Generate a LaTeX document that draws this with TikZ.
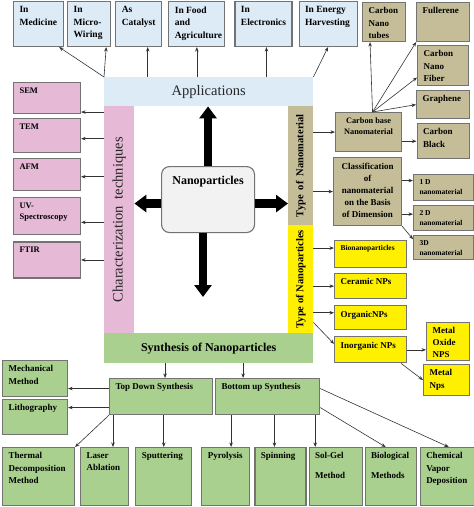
\documentclass[tikz,border=0pt]{standalone}
\usepackage{fontspec}
\setmainfont{Liberation Serif}
\usepackage{xcolor}
\usepackage{tikz}
\usetikzlibrary{positioning,arrows.meta}

\definecolor{appblue}{RGB}{221,235,247}
\definecolor{techpink}{RGB}{230,185,215}
\definecolor{matertan}{RGB}{196,189,151}
\definecolor{partyellow}{RGB}{255,240,0}
\definecolor{synthgreen}{RGB}{169,208,142}
\definecolor{corefill}{RGB}{242,242,242}

% box text: [top gap]{width}{height}{text}
\newcommand{\cellL}[4][5]{\parbox[t][#3pt][t]{#2pt}{\raggedright\leftskip=6pt\relax\vspace*{#1pt}#4}}
\newcommand{\cellC}[4][5]{\parbox[t][#3pt][t]{#2pt}{\centering\vspace*{#1pt}#4}}

\tikzset{
  cell/.style={draw=black!55, line width=1.1pt, inner sep=0pt, anchor=north west,
    font=\bfseries\fontsize{9}{12.5}\selectfont},
  appcell/.style={cell, fill=appblue, font=\bfseries\fontsize{9.5}{12.5}\selectfont},
  techcell/.style={cell, fill=techpink, font=\bfseries\fontsize{8.5}{11}\selectfont},
  matercell/.style={cell, fill=matertan},
  partcell/.style={cell, fill=partyellow},
  synthcell/.style={cell, fill=synthgreen},
  band/.style={inner sep=0pt, anchor=north west},
  link/.style={-{Stealth[length=4.5pt,width=3.5pt]}, draw=black!80, line width=0.6pt},
  bigarrow/.style={-{Triangle[length=12pt,width=17pt]}, line width=8.5pt},
}

\begin{document}
\begin{tikzpicture}[x=1pt, y=-1pt]
\useasboundingbox (0,0) rectangle (474,507);

% applications
\node[appcell] (med) at (13,1) {\cellL{50}{45}{In\\Medicine}};
\node[appcell, right=3pt of med] (wiring) {\cellL{43}{45}{In\\Micro-\\Wiring}};
\node[appcell, right=4pt of wiring] (catal) {\cellL{46}{45}{As\\Catalyst}};
\node[appcell, right=6pt of catal] (food) {\cellL{56}{45}{In Food\\and\\Agriculture}};
\node[appcell, right=9pt of food] (elec) {\cellL{57}{45}{In\\Electronics}};
\node[appcell, right=6pt of elec] (energy) {\cellL{58}{45}{In Energy\\Harvesting}};

% bands round the centre
\node[band, fill=appblue, minimum width=209pt, minimum height=29pt,
  font=\fontsize{14.5}{16}\selectfont, text=black!85] (apps) at (104,77) {Applications};
\node[band, fill=techpink, minimum width=30pt, minimum height=227pt,
  label={[rotate=90, font=\fontsize{14.5}{16}\selectfont, text=black!85]center:Characterization\ \ techniques}] (techs) at (104,106) {};
\node[band, fill=matertan, minimum width=25pt, minimum height=119pt,
  label={[rotate=90, font=\bfseries\fontsize{10.5}{12}\selectfont]center:Type\ \ of\ \ Nanomaterial}] (tmat) at (288,106) {};
\node[band, fill=partyellow, minimum width=25pt, minimum height=108pt,
  label={[rotate=90, font=\bfseries\fontsize{10.5}{12}\selectfont]center:Type of Nanoparticles}] (tpart) at (288,225) {};
\node[band, fill=synthgreen, minimum width=209pt, minimum height=30pt,
  font=\bfseries\fontsize{12}{14}\selectfont] (synth) at (104,333) {Synthesis of Nanoparticles};

\node[cell, fill=corefill, rounded corners=8pt, font=\bfseries\fontsize{12}{14}\selectfont]
  (core) at (161,166) {\cellC[10]{93}{66}{Nanoparticles}};

% characterization
\node[techcell] (sem) at (13,82) {\cellL{67}{31}{SEM}};
\node[techcell, below=4pt of sem] (tem) {\cellL{67}{34}{TEM}};
\node[techcell, below=5pt of tem] (afm) {\cellL{67}{32}{AFM}};
\node[techcell, below=6pt of afm] (uvs) {\cellL{67}{37}{UV-\\Spectroscopy}};
\node[techcell, below=6pt of uvs] (ftir) {\cellL{67}{36}{FTIR}};

% type of nanomaterial
\node[matercell] (cnt) at (362,2) {\cellL{43}{39}{Carbon\\Nano\\tubes}};
\node[matercell, right=10pt of cnt] (fuller) {\cellL{53}{39}{Fullerene}};
\node[matercell] (cnf) at (417,45) {\cellL{51}{40}{Carbon\\Nano\\Fiber}};
\node[matercell, below=4pt of cnf] (graph) {\cellL{53}{28}{Graphene}};
\node[matercell, below=4pt of graph] (cblack) {\cellL{52}{35}{Carbon\\Black}};
\node[matercell, font=\bfseries\fontsize{8.3}{11}\selectfont] (cbase) at (335,112)
  {\cellC{66}{39}{Carbon base\\Nanomaterial}};
\node[matercell, font=\bfseries\fontsize{9}{11.8}\selectfont] (classif) at (333,157)
  {\cellC[6]{68}{68}{Classification\\of\\nanomaterial\\on the Basis\\of Dimension}};
\node[matercell, font=\bfseries\fontsize{7.5}{10}\selectfont] (dim1) at (413,174) {\cellL{60}{26}{1 D\\nanomaterial}};
\node[matercell, font=\bfseries\fontsize{7.5}{10}\selectfont, below=4pt of dim1] (dim2) {\cellL{60}{25}{2 D\\nanomaterial}};
\node[matercell, font=\bfseries\fontsize{7.5}{10}\selectfont, below=4pt of dim2] (dim3) {\cellL{60}{24}{3D\\nanomaterial}};

% type of nanoparticles
\node[partcell, font=\bfseries\fontsize{7.5}{10}\selectfont] (bionp) at (334,240) {\cellL{72}{27}{Bionanoparticles}};
\node[partcell, below=5pt of bionp] (ceram) {\cellL{72}{25}{Ceramic NPs}};
\node[partcell, below=6pt of ceram] (organ) {\cellL{72}{24}{OrganicNPs}};
\node[partcell, below=6pt of organ] (inorg) {\cellL{72}{26}{Inorganic NPs}};
\node[partcell, font=\bfseries\fontsize{9}{12}\selectfont] (moxide) at (426,322) {\cellL{43}{38}{Metal\\Oxide\\NPS}};
\node[partcell] (metal) at (423,364) {\cellL{46}{31}{Metal\\Nps}};

% synthesis
\node[synthcell] (topdown) at (109,378) {\cellL{103}{36}{Top Down Synthesis}};
\node[synthcell, right=2pt of topdown] (botup) {\cellL{104}{36}{Bottom up Synthesis}};
\node[synthcell] (mech) at (2,360) {\cellL{65}{36}{Mechanical\\Method}};
\node[synthcell, below=2pt of mech] (litho) {\cellL{65}{35}{Lithography}};
\node[synthcell] (thermal) at (2,447) {\cellL{72}{58}{Thermal\\Decomposition\\Method}};
\node[synthcell, right=5pt of thermal] (laser) {\cellL{48}{58}{Laser\\Ablation}};
\node[synthcell, right=6pt of laser] (sputter) {\cellL{56}{58}{Sputtering}};
\node[synthcell, right=9pt of sputter] (pyro) {\cellL{48}{58}{Pyrolysis}};
\node[synthcell, right=4pt of pyro] (spin) {\cellL{51}{58}{Spinning}};
\node[synthcell, right=2pt of spin] (solgel) {\cellL{53}{58}{Sol-Gel\\[7.5pt]Method}};
\node[synthcell, right=2pt of solgel] (biometh) {\cellL{51}{58}{Biological\\[7.5pt]Methods}};
\node[synthcell, right=3pt of biometh] (cvd) {\cellL{57}{58}{Chemical\\Vapor\\Deposition}};

% big arrows
\coordinate (downtip) at (203,297);
\draw[bigarrow] (core.north) -- (core.north |- apps.south);
\draw[bigarrow] ([yshift=-4pt]core.west) -- ([yshift=-4pt]core.west -| techs.east);
\draw[bigarrow] ([yshift=-4pt]core.east) -- ([yshift=-4pt]core.east -| tmat.west);
\draw[bigarrow] (core.south -| downtip) -- (downtip);

% links
\draw[link] (apps.north west) -- ([xshift=-5pt]med.south east);
\draw[link] (apps.north west) -- ([xshift=-5pt]wiring.south east);
\draw[link] ([xshift=9pt]catal.south |- apps.north) -- ([xshift=9pt]catal.south);
\draw[link] (food.south |- apps.north) -- (food.south);
\draw[link] ([xshift=3pt]elec.south |- apps.north) -- ([xshift=3pt]elec.south);
\draw[link] (apps.north east) -- (energy.south);

\draw[link] ([yshift=-14pt]sem.east -| techs.west) -- ([yshift=-14pt]sem.east);
\draw[link] ([yshift=-3pt]tem.east -| techs.west) -- ([yshift=-3pt]tem.east);
\draw[link] ([yshift=-2pt]afm.east -| techs.west) -- ([yshift=-2pt]afm.east);
\draw[link] ([yshift=-6pt]uvs.east -| techs.west) -- ([yshift=-6pt]uvs.east);
\draw[link] (ftir.east -| techs.west) -- (ftir.east);

\draw[link] (cbase.west -| tmat.east) -- (cbase.west);
\draw[link] (classif.west -| tmat.east) -- (classif.west);
\draw[link] ([xshift=4pt]cbase.north) -- ([xshift=8pt]cnt.south west);
\draw[link] ([xshift=4pt]cbase.north) -- (fuller.south west);
\draw[link] ([xshift=4pt]cbase.north) -- ([yshift=-12pt]cnf.west);
\draw[link] ([xshift=4pt]cbase.north) -- (graph.west);
\draw[link] (cbase.east |- cblack.west) -- (cblack.west);
\draw[link] ([yshift=7pt]dim1.west -| classif.east) -- ([yshift=7pt]dim1.west);
\draw[link] ([yshift=4pt]dim2.west -| classif.east) -- ([yshift=4pt]dim2.west);
\draw[link] (classif.south east) -- ([yshift=-4pt]dim3.north west);

\draw[link] ([yshift=6pt]bionp.west -| tpart.east) -- ([yshift=6pt]bionp.west);
\draw[link] (ceram.west -| tpart.east) -- (ceram.west);
\draw[link] ([yshift=5pt]organ.west -| tpart.east) -- ([yshift=5pt]organ.west);
\draw[link] ([yshift=11pt]tpart.south east) -- ([yshift=6pt]inorg.west);
\draw[link] (inorg.east) -- (inorg.east -| moxide.west);
\draw[link] ([xshift=-6pt]inorg.south east) -- (metal.west);

\draw[link] ([xshift=4pt]topdown.north |- synth.south) -- ([xshift=4pt]topdown.north);
\draw[link] ([xshift=28pt]botup.north west |- synth.south) -- ([xshift=28pt]botup.north west);
\draw[link] ([yshift=8pt]topdown.west) -- ([yshift=8pt]topdown.west -| mech.east);
\draw[link] ([yshift=-11pt]topdown.west) -- ([yshift=-11pt]topdown.west -| litho.east);
\draw[link] (topdown.south west) -- (thermal.north east);
\draw[link] ([xshift=4pt]topdown.south west) -- ([xshift=4pt]topdown.south west |- laser.north);
\draw[link] (sputter.north |- topdown.south) -- (sputter.north);
\draw[link] ([xshift=16pt]botup.south west) -- ([xshift=16pt]botup.south west |- pyro.north);
\draw[link] ([xshift=-6pt]spin.north |- botup.south) -- ([xshift=-6pt]spin.north);
\draw[link] ([xshift=-5pt]botup.south east) -- ([xshift=-5pt]botup.south east |- solgel.north);
\draw[link] ([yshift=-11pt]botup.east) -- ([xshift=-5pt]biometh.north);
\draw[link] ([yshift=8pt]botup.east) -- (cvd.north);

\end{tikzpicture}
\end{document}
